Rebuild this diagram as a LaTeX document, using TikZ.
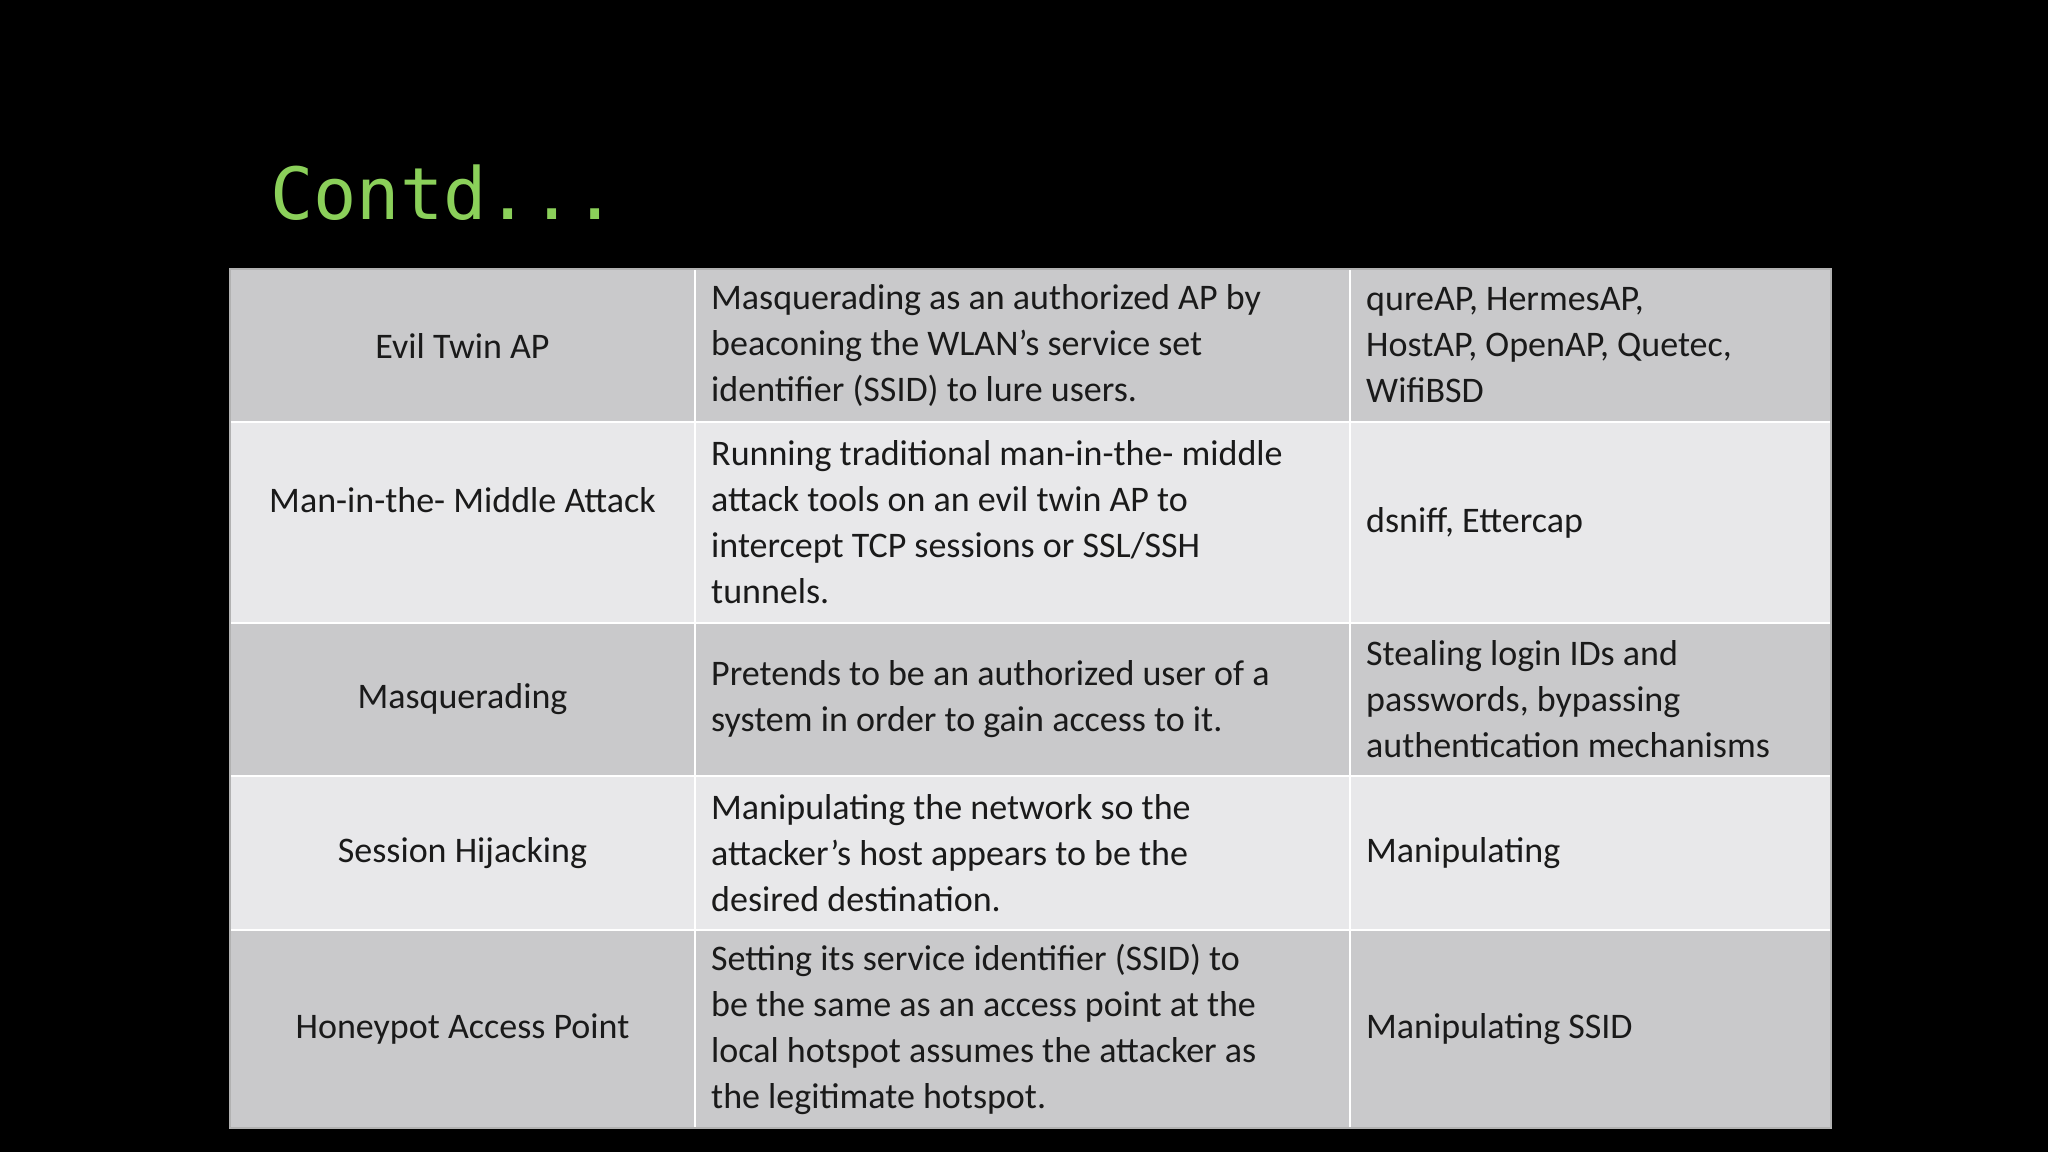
\documentclass[tikz,border=0pt]{standalone}
\usepackage{fontspec}
\setmainfont{Carlito}
\setmonofont{DejaVu Sans Mono}
\definecolor{rowA}{HTML}{C9C9CB}
\definecolor{rowB}{HTML}{E8E8EA}
\definecolor{ttl}{HTML}{8BD05A}
\definecolor{txt}{HTML}{1A1A1A}
\tikzset{
 cellA/.style={fill=rowA,draw=white,line width=2pt},
 cellB/.style={fill=rowB,draw=white,line width=2pt},
 ctext/.style={font=\fontsize{36}{46}\selectfont,text=txt,align=center},
 ltext/.style={font=\fontsize{36}{46}\selectfont,text=txt,align=left,anchor=west,inner sep=0pt},
}
\begin{document}
\begin{tikzpicture}[x=1pt,y=-1pt]
\fill[black] (0,0) rectangle (2048,1152);
\useasboundingbox (0,0) rectangle (2048,1152);
\node[font=\fontsize{72}{80}\ttfamily,text=ttl,anchor=base west,inner sep=0pt] (title) at (270,219) {Contd...};
% rows
\def\cA{230}\def\cB{695}\def\cC{1350}\def\cD{1831}
\foreach \t/\b/\s [count=\i] in {269/422/cellA,422/623/cellB,623/776/cellA,776/930/cellB,930/1128/cellA}{
  \draw[\s] (\cA,\t) rectangle (\cB,\b);
  \draw[\s] (\cB,\t) rectangle (\cC,\b);
  \draw[\s] (\cC,\t) rectangle (\cD,\b);
}
\draw[gray!60,line width=1.5pt] (\cA,269) rectangle (\cD,1128);
% column 1
\node[ctext] (r1a) at (462.5,345.5) {Evil Twin AP};
\node[ctext] (r2a) at (462.5,500) {Man-in-the- Middle Attack};
\node[ctext] (r3a) at (462.5,699.5) {Masquerading};
\node[ctext] (r4a) at (462.5,853) {Session Hijacking};
\node[ctext] (r5a) at (462.5,1029) {Honeypot Access Point};
% column 2
\node[ltext] (r1b) at (711,345.5) {Masquerading as an authorized AP by\\beaconing the WLAN's service set\\identifier (SSID) to lure users.};
\node[ltext] (r2b) at (711,522.5) {Running traditional man-in-the- middle\\attack tools on an evil twin AP to\\intercept TCP sessions or SSL/SSH\\tunnels.};
\node[ltext] (r3b) at (711,699.5) {Pretends to be an authorized user of a\\system in order to gain access to it.};
\node[ltext] (r4b) at (711,853) {Manipulating the network so the\\attacker's host appears to be the\\desired destination.};
\node[ltext] (r5b) at (711,1029) {Setting its service identifier (SSID) to\\be the same as an access point at the\\local hotspot assumes the attacker as\\the legitimate hotspot.};
% column 3
\node[ltext] (r1c) at (1366,345.5) {qureAP, HermesAP,\\HostAP, OpenAP, Quetec,\\WifiBSD};
\node[ltext] (r2c) at (1366,522.5) {dsniff, Ettercap};
\node[ltext] (r3c) at (1366,699.5) {Stealing login IDs and\\passwords, bypassing\\authentication mechanisms};
\node[ltext] (r4c) at (1366,853) {Manipulating};
\node[ltext] (r5c) at (1366,1029) {Manipulating SSID};
\end{tikzpicture}
\end{document}
